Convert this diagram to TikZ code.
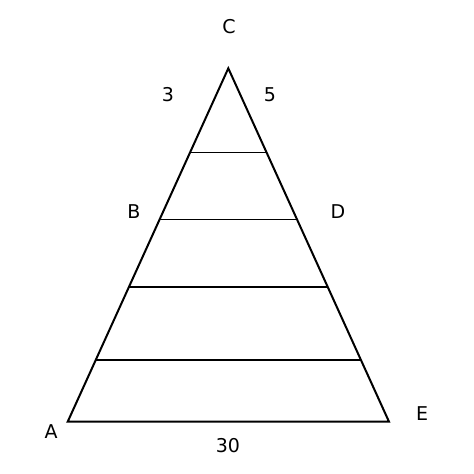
\documentclass[tikz,border=0pt]{standalone}
\usepackage{fontspec}
\setmainfont{DejaVu Sans}
\usetikzlibrary{calc}
\begin{document}
\begin{tikzpicture}[x=1pt,y=-1pt,
  edge/.style={line width=2pt, line join=miter},
  rung/.style={line width=1.8pt},
  lbl/.style={font=\fontsize{19}{22}\selectfont, inner sep=0pt}]
\useasboundingbox (0,0) rectangle (474,474);
\coordinate (C) at (228.3,68.3);
\coordinate (A) at (67.7,421.7);
\coordinate (E) at (389,421.7);
\draw[edge] (A) -- (C) -- (E) -- cycle;
\foreach \y [count=\i] in {152.5,219.5,287.3,360.3}{
  \pgfmathsetmacro{\t}{(\y-68.3)/(421.7-68.3)}
  \coordinate (L\i) at ($(C)!\t!(A)$);
  \coordinate (R\i) at ($(C)!\t!(E)$);
  \draw[rung] (L\i) -- (R\i);
}
\node[lbl] (lC) at (229,27) {C};
\node[lbl] (l3) at (168,95) {3};
\node[lbl] (l5) at (270,95) {5};
\node[lbl] (lB) at (134,212) {B};
\node[lbl] (lD) at (338,212) {D};
\node[lbl] (lA) at (51,432) {A};
\node[lbl] (lE) at (422,414) {E};
\node[lbl] (l30) at (228,446) {30};
\end{tikzpicture}
\end{document}
